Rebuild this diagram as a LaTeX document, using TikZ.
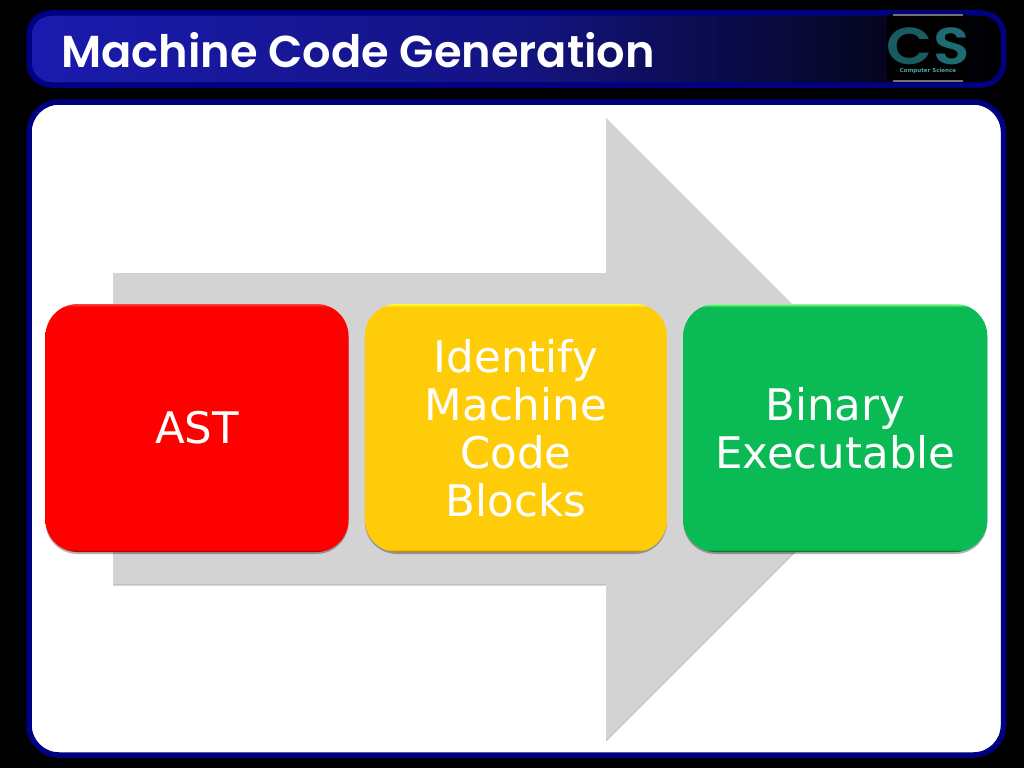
\documentclass[tikz,border=0pt]{standalone}
\usepackage{fontspec}
\setmainfont{DejaVu Sans}
\newfontfamily\titlefont{Poppins SemiBold}
\usetikzlibrary{positioning,shadows}
\definecolor{framenavy}{HTML}{000080}
\definecolor{barblue}{HTML}{1A1AAE}
\definecolor{arrowgrey}{HTML}{D3D3D3}
\definecolor{astred}{HTML}{FF0000}
\definecolor{blockyellow}{HTML}{FFCC0A}
\definecolor{binarygreen}{HTML}{0ABB55}
\definecolor{logoteal}{HTML}{1F6B72}
\pgfdeclareverticalshading{astshade}{100bp}{color(0bp)=(red!55!black); color(25bp)=(red!55!black); color(25.5bp)=(astred); color(74.4bp)=(astred); color(75bp)=(red!75!white); color(100bp)=(red!75!white)}
\pgfdeclareverticalshading{blockshade}{100bp}{color(0bp)=(orange!70!black); color(25bp)=(orange!70!black); color(25.5bp)=(blockyellow); color(74.4bp)=(blockyellow); color(75bp)=(yellow!80!white); color(100bp)=(yellow!80!white)}
\pgfdeclareverticalshading{binaryshade}{100bp}{color(0bp)=(green!35!black); color(25bp)=(green!35!black); color(25.5bp)=(binarygreen); color(74.4bp)=(binarygreen); color(75bp)=(green!45!white); color(100bp)=(green!45!white)}
\tikzset{
	frame/.style = {draw = framenavy, line width = 5.5pt},
	stage/.style = {minimum width = 303pt, minimum height = 248pt, rounded corners = 32pt,
		align = center, text = white, font = \fontsize{43.5}{48}\selectfont, inner sep = 0pt,
		drop shadow = {shadow xshift = 0pt, shadow yshift = -2pt, opacity = 0.3, fill = black}},
	logoletter/.style = {font = \titlefont\fontsize{52}{52}\selectfont, inner sep = 0pt, xscale = 1.15,
		text height = 36pt, text depth = 0pt}
}
\begin{document}
\begin{tikzpicture}[x = 1pt, y = -1pt]
	\useasboundingbox [fill = black] (0,0) rectangle (1024,768);

	% title bar and panel
	\path [frame, rounded corners = 22pt, left color = barblue, right color = black, middle color = barblue!75!black]
		(29,13) rectangle (1003.5,85);
	\path [frame, rounded corners = 30pt, fill = white] (29,102) rectangle (1003.5,755);
	\node (title) [anchor = base west, inner sep = 0pt, text = white,
		font = \titlefont\fontsize{44.7}{48}\selectfont] at (61,67) {Machine Code Generation};

	% logo
	\node (logo) [fill = black, rounded corners = 4pt, minimum width = 82pt, minimum height = 68pt, inner sep = 0pt] at (928,48) {};
	\node (logotop) [fill = black!55, minimum width = 70pt, minimum height = 2.5pt, inner sep = 0pt, below = 0pt of logo.north] {};
	\node (logobottom) [fill = black!55, minimum width = 70pt, minimum height = 2.5pt, inner sep = 0pt, above = 0pt of logo.south] {};
	\node (logoc) [logoletter, text = logoteal!85!black, anchor = base] at (909,64) {C};
	\node (logos) [logoletter, text = logoteal, anchor = base] at (952,64) {S};
	\node (logotext) [above = 5pt of logobottom, text = teal!70!white, inner sep = 0pt,
		font = \bfseries\fontsize{5.5}{6}\selectfont] {Computer Science};

	% arrow behind the boxes
	\fill [arrowgrey, drop shadow = {shadow xshift = 0pt, shadow yshift = -1.5pt, opacity = 0.25, fill = black}]
		(113,273) -- (606,273) -- (606,118) -- (917,429) -- (606,740) -- (606,584) -- (113,584) -- cycle;

	\node (ast) [stage, shading = astshade] at (197,428) {AST};
	\node (blocks) [stage, shading = blockshade, minimum width = 302pt, right = 16pt of ast] {Identify\\Machine\\Code\\Blocks};
	\node (binary) [stage, shading = binaryshade, minimum width = 304pt, right = 16pt of blocks] {Binary\\Executable};
\end{tikzpicture}
\end{document}
